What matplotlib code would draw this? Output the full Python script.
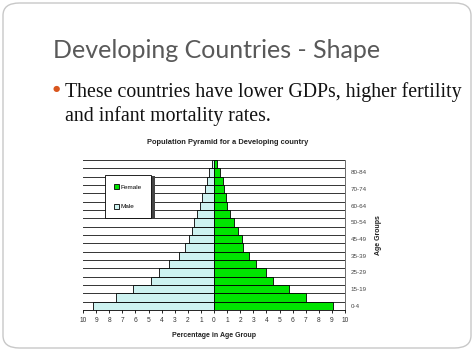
import matplotlib.pyplot as plt
import numpy as np
from matplotlib.patches import FancyBboxPatch, Rectangle

# age groups, bottom to top, and percentages
age_groups = ['0-4', '5-9', '10-14', '15-19', '20-24', '25-29', '30-34', '35-39',
              '40-44', '45-49', '50-54', '55-59', '60-64', '65-69', '70-74',
              '75-79', '80-84', '85+']
male = [9.25, 7.45, 6.2, 4.8, 4.2, 3.4, 2.7, 2.2, 1.9, 1.7, 1.5, 1.3, 1.1, 0.9,
        0.65, 0.5, 0.35, 0.12]
female = [9.1, 7.0, 5.75, 4.5, 4.0, 3.2, 2.7, 2.25, 2.1, 1.85, 1.55, 1.2, 1.0,
          0.9, 0.75, 0.65, 0.45, 0.25]
# labels as they appear on the right axis (every other group)
shown_labels = ['0-4', '15-19', '25-29', '35-39', '45-49', '50-54', '60-64',
                '70-74', '80-84']
x_ticks = list(range(-10, 11))

W, H = 474, 355
fig = plt.figure(figsize=(W / 100, H / 100), dpi=100)
chart_font = 'Liberation Sans'

# slide frame
frame = FancyBboxPatch((3 / W, 7 / H), 468 / W, 345 / H,
                       boxstyle='round,pad=0,rounding_size=0.035',
                       transform=fig.transFigure, facecolor='none',
                       edgecolor='#c8c8c8', linewidth=1.0, zorder=-1)
fig.patches.append(frame)

fig.text(53 / W, 1 - 50 / H, 'Developing Countries - Shape', fontsize=18,
         color='#595959', family='Lato', va='center', ha='left')
fig.text(56 / W, 1 - 89 / H, '\u25CF', fontsize=6, color='#d9561e',
         va='center', ha='center')
fig.text(65 / W, 1 - 92 / H, 'These countries have lower GDPs, higher fertility',
         fontsize=14.3, family='Liberation Serif', color='#111111',
         va='center', ha='left')
fig.text(65 / W, 1 - 116 / H, 'and infant mortality rates.',
         fontsize=14.3, family='Liberation Serif', color='#111111',
         va='center', ha='left')

fig.text(228 / W, 1 - 142 / H, 'Population Pyramid for a Developing country',
         fontsize=5.4, fontweight='bold', color='#222222', family=chart_font,
         ha='center', va='center')

ax = fig.add_axes([83 / W, 1 - 310 / H, 262 / W, 150 / H])
y = np.arange(len(age_groups))
ax.barh(y, [-m for m in male], height=1.0, color='#cdf2f0', edgecolor='black',
        linewidth=0.6, label='Male', zorder=3)
ax.barh(y, female, height=1.0, color='#00e400', edgecolor='black',
        linewidth=0.6, label='Female', zorder=3)

ax.set_xlim(-10, 10)
ax.set_ylim(-0.5, len(age_groups) - 0.5)
ax.set_xticks(x_ticks)
ax.set_xticklabels([str(abs(t)) for t in x_ticks], fontsize=4.8,
                   family=chart_font)
ax.tick_params(axis='x', length=2, width=0.6, pad=3, labelcolor='#333333')

ax.set_yticks(y[::2])
ax.set_yticklabels(shown_labels, fontsize=4.5, family=chart_font)
ax.set_yticks(np.arange(-0.5, len(age_groups), 1), minor=True)
ax.yaxis.tick_right()
ax.tick_params(axis='y', which='both', length=0, pad=4, labelcolor='#444444')
ax.grid(True, which='minor', axis='y', color='#333333', linewidth=0.7, zorder=1)

for s in ['top', 'left']:
    ax.spines[s].set_visible(False)
ax.spines['right'].set_linewidth(0.6)
ax.spines['right'].set_color('#555555')
ax.spines['bottom'].set_linewidth(0.6)

ax.set_xlabel('Percentage in Age Group', fontsize=5.0, fontweight='bold',
              color='#222222', family=chart_font, labelpad=6)
ax.yaxis.set_label_position('right')
ax.set_ylabel('Age Groups', fontsize=5.0, fontweight='bold', color='#222222',
              family=chart_font, labelpad=6)

# legend box with shadow
shadow = Rectangle((107 / W, 1 - 218 / H), 48 / W, 42 / H,
                   transform=fig.transFigure, facecolor='#444444',
                   clip_on=False, zorder=5)
ax.add_patch(shadow)
leg = ax.legend(handles=ax.containers[::-1], labels=['Female', 'Male'],
                loc='upper left', bbox_to_anchor=(22 / 262, 1 - 15 / 150),
                prop={'family': chart_font, 'size': 4.6},
                frameon=True, fancybox=False, edgecolor='black',
                framealpha=1, handlelength=0.8, handleheight=0.8,
                labelspacing=2.2, borderpad=1.4, handletextpad=0.3,
                borderaxespad=0)
leg.get_frame().set_linewidth(0.6)
leg.set_zorder(6)

fig.savefig('out.png', dpi=100)
